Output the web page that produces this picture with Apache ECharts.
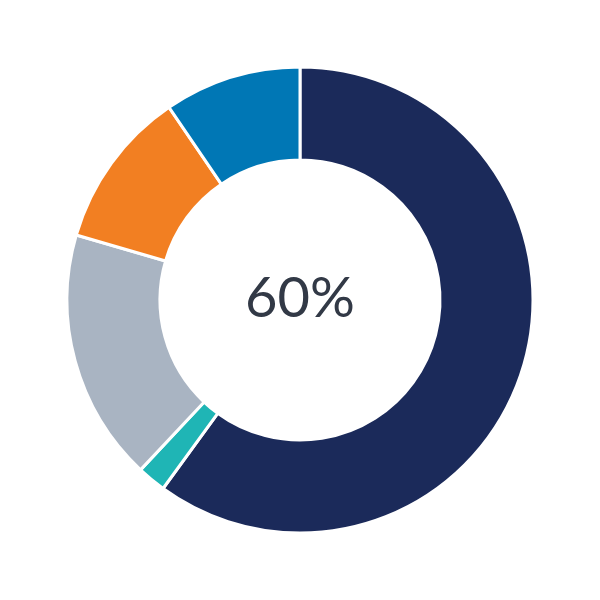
<!DOCTYPE html>
<html>
<head>
<meta charset="utf-8">
<script src="https://cdn.jsdelivr.net/npm/echarts@6/dist/echarts.min.js"></script>
<style>
  html, body { margin: 0; padding: 0; background: #fff; }
  #chart { width: 600px; height: 600px; }
</style>
</head>
<body>
<div id="chart"></div>
<script>
var names = ['A', 'B', 'C', 'D', 'E'];
var values = [60, 2, 17.5, 11, 9.5];
var colors = ['#1b2a5a', '#1fb5b5', '#a9b4c2', '#f27f22', '#0077b5'];
var centerText = '60%';

var chart = echarts.init(document.getElementById('chart'));
var option = {
    animation: false,
    color: colors,
    title: {
        text: centerText,
        left: 'center',
        top: 266,
        textStyle: {
            fontFamily: 'Lato',
            fontWeight: 400,
            fontSize: 56,
            color: '#323946'
        }
    },
    series: [
        {
            type: 'pie',
            center: ['50%', '50%'],
            radius: [140, 233],
            startAngle: 90,
            clockwise: true,
            label: { show: false },
            labelLine: { show: false },
            itemStyle: {
                borderColor: '#ffffff',
                borderWidth: 3
            },
            data: names.map(function (n, i) {
                return { name: n, value: values[i] };
            })
        }
    ]
};
chart.setOption(option);
</script>
</body>
</html>
